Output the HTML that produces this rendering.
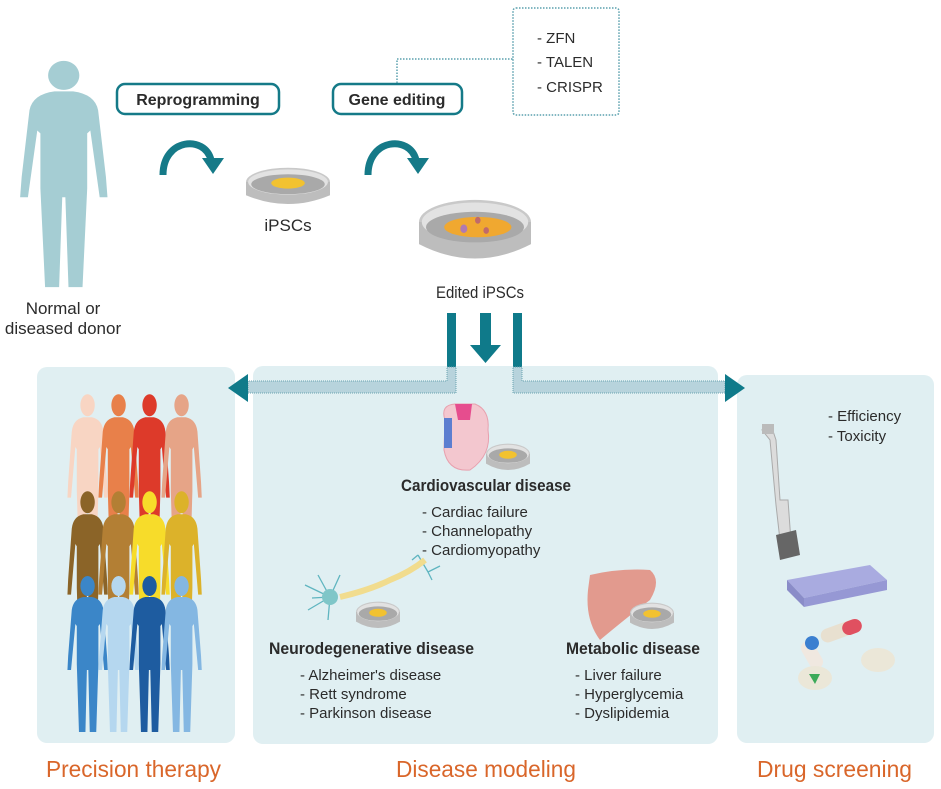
<!DOCTYPE html>
<html><head><meta charset="utf-8"><style>
html,body{margin:0;padding:0;background:#fff}
svg{display:block}
text{font-family:"Liberation Sans",sans-serif;fill:#2b2b2b}
.b{font-weight:bold}
.h{fill:#d9662a;font-size:23px}
</style></head><body>
<svg width="941" height="789" viewBox="0 0 941 789" xmlns="http://www.w3.org/2000/svg">
<defs>
<path id="man" d="M30,2 a10,10 0 1,1 -0.1,0 Z M24,23 L36,23 Q50,25 52,36 L57,82 L58,96 L53,96 L47,50 L45,52 L45,90 L42,158 L33,158 L31,96 L29,96 L27,158 L18,158 L15,90 L15,52 L13,50 L7,96 L2,96 L3,82 L8,36 Q10,25 24,23 Z"/>
<g id="dish">
<ellipse cx="0" cy="0" rx="40" ry="13" fill="#c9c9c9"/>
<path d="M-40,0 L-40,12 Q0,28 40,12 L40,0 Z" fill="#bdbdbd"/>
<ellipse cx="0" cy="0" rx="38" ry="11.5" fill="#e2e2e2"/>
<ellipse cx="0" cy="2" rx="35" ry="9" fill="#a9a9a9"/>
<ellipse cx="0" cy="1" rx="16" ry="5" fill="#f2c230"/>
</g>
</defs>

<rect x="37" y="367" width="198" height="376" rx="10" fill="#e0eff2"/>
<rect x="253" y="366" width="465" height="378" rx="10" fill="#e0eff2"/>
<rect x="737" y="375" width="197" height="368" rx="10" fill="#e0eff2"/>

<use href="#man" transform="translate(17,58) scale(1.56,1.45)" fill="#a5cdd3"/>
<text x="63" y="314" font-size="17" text-anchor="middle">Normal or</text>
<text x="63" y="334" font-size="17" text-anchor="middle">diseased donor</text>

<rect x="117" y="84" width="162" height="30" rx="8" fill="#fff" stroke="#157a88" stroke-width="2.5"/>
<text x="198" y="105" font-size="16" class="b" text-anchor="middle">Reprogramming</text>
<rect x="333" y="84" width="129" height="30" rx="8" fill="#fff" stroke="#157a88" stroke-width="2.5"/>
<text x="397" y="105" font-size="16" class="b" text-anchor="middle">Gene editing</text>
<path d="M397,83 L397,59 L513,59" fill="none" stroke="#5aa0ad" stroke-width="1.5" stroke-dasharray="1.5,1.5"/>
<rect x="513" y="8" width="106" height="107" rx="3" fill="none" stroke="#5aa0ad" stroke-width="1.5" stroke-dasharray="1.5,1.5"/>
<text x="537" y="43" font-size="15">- ZFN</text>
<text x="537" y="67" font-size="15">- TALEN</text>
<text x="537" y="92" font-size="15">- CRISPR</text>

<g fill="none" stroke="#157a88" stroke-width="7">
<path d="M163,175 C163,138 205,135 211,160"/>
<path d="M368,175 C368,138 410,135 416,160"/>
</g>
<path d="M202,158 L224,158 L213,174 Z" fill="#157a88"/>
<path d="M407,158 L429,158 L418,174 Z" fill="#157a88"/>

<use href="#dish" transform="translate(288,182) scale(1.05,1.1)"/>
<text x="288" y="231" font-size="17" text-anchor="middle">iPSCs</text>
<g transform="translate(475,222) scale(1.4,1.7)">
<ellipse cx="0" cy="0" rx="40" ry="13" fill="#c9c9c9"/>
<path d="M-40,0 L-40,13 Q0,30 40,13 L40,0 Z" fill="#bdbdbd"/>
<ellipse cx="0" cy="0" rx="38" ry="11.5" fill="#e2e2e2"/>
<ellipse cx="0" cy="3" rx="35" ry="9" fill="#a9a9a9"/>
<ellipse cx="2" cy="3" rx="24" ry="6" fill="#f0a830"/>
<circle cx="-8" cy="4" r="2.5" fill="#b07ab0"/><circle cx="8" cy="5" r="2" fill="#c06a6a"/><circle cx="2" cy="-1" r="2" fill="#c06a6a"/>
</g>
<text x="480" y="298" font-size="17" text-anchor="middle" textLength="88" lengthAdjust="spacingAndGlyphs">Edited iPSCs</text>

<rect x="447" y="313" width="9" height="54" fill="#0f7a8a"/>
<rect x="513" y="313" width="9" height="54" fill="#0f7a8a"/>
<rect x="480" y="313" width="11" height="33" fill="#0f7a8a"/>
<path d="M470,345 L501,345 L485.5,363 Z" fill="#0f7a8a"/>
<path d="M447,367 L456,367 L456,393 L248,393 L248,381 L447,381 Z" fill="#b7d3dc" stroke="#6aa3b0" stroke-width="1" stroke-dasharray="1,1"/>
<path d="M513,367 L522,367 L522,381 L725,381 L725,393 L513,393 Z" fill="#b7d3dc" stroke="#6aa3b0" stroke-width="1" stroke-dasharray="1,1"/>
<path d="M248,374 L248,402 L228,388 Z" fill="#0f7a8a"/>
<path d="M725,374 L725,402 L745,388 Z" fill="#0f7a8a"/>

<g>
<use href="#man" transform="translate(66,392) scale(0.72,1.1)" fill="#f8d5c3"/>
<use href="#man" transform="translate(97,392) scale(0.72,1.1)" fill="#e8804a"/>
<use href="#man" transform="translate(128,392) scale(0.72,1.1)" fill="#dd3a2a"/>
<use href="#man" transform="translate(160,392) scale(0.72,1.1)" fill="#e6a487"/>
<use href="#man" transform="translate(66,489) scale(0.72,1.1)" fill="#8b6428"/>
<use href="#man" transform="translate(97,489) scale(0.72,1.1)" fill="#b37f34"/>
<use href="#man" transform="translate(128,489) scale(0.72,1.1)" fill="#f7dc2a"/>
<use href="#man" transform="translate(160,489) scale(0.72,1.1)" fill="#dcb22a"/>
<use href="#man" transform="translate(66,574) scale(0.72,1.0)" fill="#3b86c8"/>
<use href="#man" transform="translate(97,574) scale(0.72,1.0)" fill="#b5d7ef"/>
<use href="#man" transform="translate(128,574) scale(0.72,1.0)" fill="#1e5ca0"/>
<use href="#man" transform="translate(160,574) scale(0.72,1.0)" fill="#84b7e2"/>
</g>

<path d="M445,420 Q440,405 455,404 L475,404 Q490,410 488,430 Q492,455 470,470 Q448,472 444,450 Z" fill="#f3c7cf" stroke="#e8a0ae"/>
<path d="M455,404 L458,420 L470,420 L472,404 Z" fill="#e64d8e"/>
<rect x="444" y="418" width="8" height="30" fill="#5c7ed0"/>
<use href="#dish" transform="translate(508,454) scale(0.55,0.8)"/>
<text x="401" y="491" font-size="17" class="b" textLength="170" lengthAdjust="spacingAndGlyphs">Cardiovascular disease</text>
<text x="422" y="517" font-size="15">- Cardiac failure</text>
<text x="422" y="536" font-size="15">- Channelopathy</text>
<text x="422" y="555" font-size="15">- Cardiomyopathy</text>

<g stroke="#5fb5c0" stroke-width="1.3" fill="none">
<path d="M330,597 L305,585 M330,597 L308,610 M330,597 L318,575 M330,597 L340,575 M330,597 L328,620 M330,597 L312,598"/>
<path d="M418,555 L428,572 L440,566 M428,572 L432,580 M418,555 L412,560"/>
</g>
<path d="M340,597 Q370,590 390,580 Q410,572 425,560" stroke="#f1dc8e" stroke-width="6" fill="none"/>
<circle cx="330" cy="597" r="8" fill="#7fc6c8"/>
<use href="#dish" transform="translate(378,612) scale(0.55,0.8)"/>
<text x="269" y="654" font-size="17" class="b" textLength="205" lengthAdjust="spacingAndGlyphs">Neurodegenerative disease</text>
<text x="300" y="680" font-size="15">- Alzheimer's disease</text>
<text x="300" y="699" font-size="15">- Rett syndrome</text>
<text x="300" y="718" font-size="15">- Parkinson disease</text>

<path d="M590,575 Q620,568 650,570 Q662,580 650,600 Q630,615 600,640 Q585,620 588,590 Z" fill="#e29a8e"/>
<use href="#dish" transform="translate(652,613) scale(0.55,0.8)"/>
<text x="566" y="654" font-size="17" class="b" textLength="134" lengthAdjust="spacingAndGlyphs">Metabolic disease</text>
<text x="575" y="680" font-size="15">- Liver failure</text>
<text x="575" y="699" font-size="15">- Hyperglycemia</text>
<text x="575" y="718" font-size="15">- Dyslipidemia</text>

<text x="828" y="421" font-size="15">- Efficiency</text>
<text x="828" y="441" font-size="15">- Toxicity</text>
<path d="M762,430 L772,428 L776,440 L780,500 L788,500 L792,555 L782,558 L776,505 L770,440 Z" fill="#dcdcdc" stroke="#aaa"/>
<rect x="762" y="424" width="12" height="10" fill="#bbb"/>
<path d="M776,535 L796,530 L800,555 L780,560 Z" fill="#666"/>
<path d="M787,580 L870,565 L887,580 L804,598 Z" fill="#a9abe0"/>
<path d="M787,580 L804,598 L804,607 L787,590 Z" fill="#8a8cc8"/>
<path d="M804,598 L887,580 L887,590 L804,607 Z" fill="#9698d4"/>
<rect x="820" y="624" width="40" height="14" rx="7" transform="rotate(-20 840 631)" fill="#e8e0d0"/>
<rect x="842" y="620" width="20" height="14" rx="7" transform="rotate(-20 852 627)" fill="#e05060"/>
<rect x="805" y="640" width="14" height="30" rx="7" transform="rotate(-30 812 655)" fill="#f0e8e0"/>
<rect x="805" y="636" width="14" height="14" rx="7" transform="rotate(-30 812 643)" fill="#3b7fd0"/>
<ellipse cx="878" cy="660" rx="17" ry="12" fill="#ebe7d8"/>
<ellipse cx="815" cy="678" rx="17" ry="12" fill="#ebe7d8"/>
<path d="M809,674 L820,674 L815,684 Z" fill="#3caa5a"/>

<text x="46" y="777" class="h" textLength="175" lengthAdjust="spacingAndGlyphs">Precision therapy</text>
<text x="396" y="777" class="h" textLength="180" lengthAdjust="spacingAndGlyphs">Disease modeling</text>
<text x="757" y="777" class="h" textLength="155" lengthAdjust="spacingAndGlyphs">Drug screening</text>
</svg>
</body></html>
